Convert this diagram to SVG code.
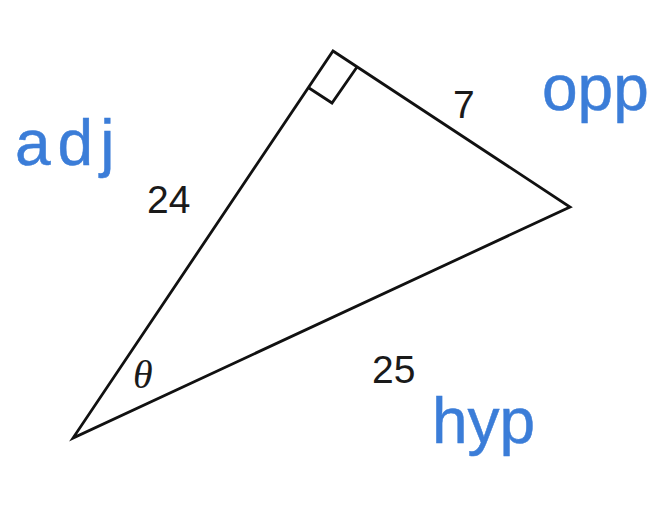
<svg xmlns="http://www.w3.org/2000/svg" width="671" height="506" viewBox="0 0 671 506">
<style>
.edge{fill:none;stroke:#111;stroke-width:2.8;stroke-linejoin:miter}
.num{font-family:"Liberation Sans",Arial,sans-serif;font-size:39px;fill:#1a1a1a}
.hand{font-family:"Liberation Sans",Arial,sans-serif;font-size:64px;fill:#3b7dd8;stroke:#3b7dd8;stroke-width:0.5}
.greek{font-family:"Liberation Serif","Times New Roman",serif;font-style:italic;font-size:40px;fill:#1a1a1a}
</style>
<rect width="671" height="506" fill="#fff"/>
<g id="connectors">
<polygon class="edge" points="333,51 570,207 73,438"/>
<polyline class="edge" points="309,88 332,103 357,67"/>
</g>
<g id="side-adj">
<text class="num" x="147" y="213">24</text>
<text class="hand" x="15" y="165" letter-spacing="7">adj</text>
</g>
<g id="side-opp">
<text class="num" x="453" y="118">7</text>
<text class="hand" x="542" y="110">opp</text>
</g>
<g id="side-hyp">
<text class="num" x="372" y="383">25</text>
<text class="hand" x="432" y="443">hyp</text>
</g>
<g id="angle">
<text class="greek" x="133" y="388">θ</text>
</g>
</svg>
